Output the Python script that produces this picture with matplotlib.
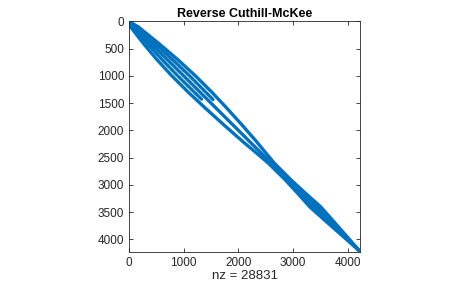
import matplotlib
matplotlib.use("Agg")
from matplotlib import pyplot as plt
import numpy as np

plt.rcParams['font.family'] = ['Liberation Sans', 'DejaVu Sans']

# matrix size and nonzero count
n = 4224
nz = 28831

# outer band envelope (row, offset from diagonal)
rows_outer = [0, 100, 400, 700, 1000, 1300, 1600, 1900, 2200, 2450, 2600, 2900, 3150, 3400, 3650, 3900, 4224]
off_outer = [0, 70, 140, 190, 215, 215, 195, 165, 125, 80, 55, 52, 72, 100, 72, 40, 0]

# inner strands in the two wide sections
rows_inner1 = [100, 400, 700, 1000, 1300, 1450]
off_inner1 = [35, 70, 95, 108, 105, 100]
rows_inner2 = [3100, 3400, 3700]
off_inner2 = [30, 50, 30]

blue = (0, 0.447, 0.741)
lw = 2.4

fig = plt.figure(figsize=(4.74, 2.85), dpi=100)
ax = fig.add_axes([0.272, 0.117, 0.488, 0.808])

r = np.array(rows_outer)
d = np.array(off_outer)
ax.plot([0, n], [0, n], color=blue, lw=lw, solid_capstyle='round')
for s in (1, -1):
    ax.plot(r + s * d, r, color=blue, lw=lw, solid_capstyle='round')

for rr, dd in ((rows_inner1, off_inner1), (rows_inner2, off_inner2)):
    rr = np.array(rr)
    dd = np.array(dd)
    for s in (1, -1):
        ax.plot(rr + s * dd, rr, color=blue, lw=lw, linestyle=(0, (1.1, 0.6)),
                dash_capstyle='round')

ax.set_xlim(0, n)
ax.set_ylim(n, 0)
ax.set_xticks([0, 1000, 2000, 3000, 4000])
ax.set_yticks(np.arange(0, 4001, 500))
ax.tick_params(direction='in', length=3, top=True, right=True, labelsize=8.5,
               colors=(0.15, 0.15, 0.15), width=0.6)
for sp in ax.spines.values():
    sp.set_color((0.15, 0.15, 0.15))
    sp.set_linewidth(0.6)
ax.set_title('Reverse Cuthill-McKee', fontsize=9, fontweight='bold', pad=3)
ax.set_xlabel(f'nz = {nz}', fontsize=9.5, labelpad=1, color=(0.15, 0.15, 0.15))

plt.savefig('out.png', dpi=100)
